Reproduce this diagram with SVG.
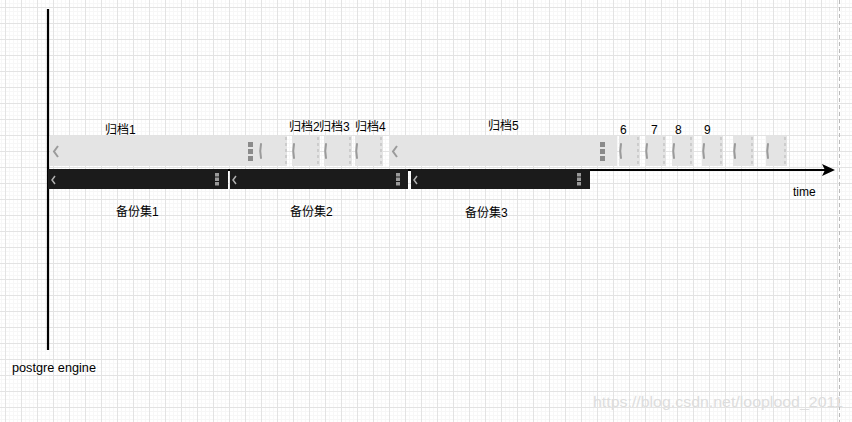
<svg xmlns="http://www.w3.org/2000/svg" width="852" height="422" viewBox="0 0 852 422">
<defs>
<pattern id="grid" patternUnits="userSpaceOnUse" x="5" y="7" width="16" height="16">
<rect width="16" height="16" fill="#ffffff"/>
<rect x="4" y="0" width="1" height="16" fill="#f7f7f7"/>
<rect x="8" y="0" width="1" height="16" fill="#f7f7f7"/>
<rect x="12" y="0" width="1" height="16" fill="#f7f7f7"/>
<rect x="0" y="4" width="16" height="1" fill="#f7f7f7"/>
<rect x="0" y="8" width="16" height="1" fill="#f7f7f7"/>
<rect x="0" y="12" width="16" height="1" fill="#f7f7f7"/>
<rect x="0" y="0" width="1" height="16" fill="#e3e3e3"/>
<rect x="0" y="0" width="16" height="1" fill="#e3e3e3"/>
</pattern>
</defs>
<style>
.t{font-family:"Liberation Sans","Noto Sans CJK SC",sans-serif;font-size:12px;fill:#000}
.lb{fill:#e4e4e4}
.db{fill:#1b1b1b}
.par{stroke:#9a9a9a;stroke-width:2;fill:none;stroke-linecap:round}
.dash{stroke:#b5b5b5;stroke-width:1;stroke-dasharray:3,3}
.chl{stroke:#9a9a9a;stroke-width:2;fill:none}
.chd{stroke:#b0b0b0;stroke-width:1.5;fill:none}
.dl{fill:#8a8a8a}
.dd{fill:#9a9a9a}
</style>
<rect width="852" height="422" fill="url(#grid)"/>
<line x1="839.5" y1="0" x2="839.5" y2="422" stroke="#bbbbbb" stroke-dasharray="4,3"/>

<g id="connectors">
<line x1="48" y1="9" x2="48" y2="350" stroke="#000" stroke-width="2.2"/>
<line x1="48" y1="170" x2="826" y2="170" stroke="#000" stroke-width="2"/>
<path d="M835,170 L822,164 L825,170 L822,176 Z" fill="#000"/>
</g>

<g id="archive1">
<rect class="lb" x="50" y="136" width="237" height="30"/>
<path class="chl" d="M58,146 L54,151.5 L58,157"/>
<rect class="dl" x="248" y="142" width="5" height="5"/>
<rect class="dl" x="248" y="149" width="5" height="5"/>
<rect class="dl" x="248" y="156" width="5" height="5"/>
<path class="par" d="M261,144 Q259.5,151 261,158"/>
<line class="dash" x1="286" y1="137" x2="286" y2="165"/>
<text class="t" x="105" y="134">归档1</text>
</g>
<g id="archive2">
<rect class="lb" x="292" y="136" width="28" height="30"/>
<path class="par" d="M294,144 Q292.5,151 294,158"/>
<line class="dash" x1="318" y1="137" x2="318" y2="165"/>
<text class="t" x="289" y="131">归档2</text>
</g>
<g id="archive3">
<rect class="lb" x="324" y="136" width="28" height="30"/>
<path class="par" d="M326,144 Q324.5,151 326,158"/>
<line class="dash" x1="350" y1="137" x2="350" y2="165"/>
<text class="t" x="319" y="131">归档3</text>
</g>
<g id="archive4">
<rect class="lb" x="355" y="136" width="28" height="30"/>
<path class="par" d="M357,144 Q355.5,151 357,158"/>
<line class="dash" x1="381" y1="137" x2="381" y2="165"/>
<text class="t" x="355" y="131">归档4</text>
</g>
<g id="archive5">
<rect class="lb" x="389" y="136" width="228" height="30"/>
<path class="chl" d="M397,146 L393,151.5 L397,157"/>
<rect class="dl" x="600" y="142" width="5" height="5"/>
<rect class="dl" x="600" y="149" width="5" height="5"/>
<rect class="dl" x="600" y="156" width="5" height="5"/>
<text class="t" x="488" y="130">归档5</text>
</g>
<g id="archive6">
<rect class="lb" x="619" y="136" width="21" height="30"/>
<path class="par" d="M621,144 Q619.5,151 621,158"/>
<line class="dash" x1="638" y1="137" x2="638" y2="165"/>
<text class="t" x="620" y="134">6</text>
</g>
<g id="archive7">
<rect class="lb" x="645" y="136" width="21" height="30"/>
<path class="par" d="M647,144 Q645.5,151 647,158"/>
<line class="dash" x1="664" y1="137" x2="664" y2="165"/>
<text class="t" x="651" y="134">7</text>
</g>
<g id="archive8">
<rect class="lb" x="672" y="136" width="21" height="30"/>
<path class="par" d="M674,144 Q672.5,151 674,158"/>
<line class="dash" x1="691" y1="137" x2="691" y2="165"/>
<text class="t" x="675" y="134">8</text>
</g>
<g id="archive9">
<rect class="lb" x="702" y="136" width="21" height="30"/>
<path class="par" d="M704,144 Q702.5,151 704,158"/>
<line class="dash" x1="721" y1="137" x2="721" y2="165"/>
<text class="t" x="704" y="134">9</text>
</g>
<g id="archive10">
<rect class="lb" x="733" y="136" width="21" height="30"/>
<path class="par" d="M735,144 Q733.5,151 735,158"/>
<line class="dash" x1="752" y1="137" x2="752" y2="165"/>
</g>
<g id="archive11">
<rect class="lb" x="766" y="136" width="21" height="30"/>
<path class="par" d="M768,144 Q766.5,151 768,158"/>
<line class="dash" x1="785" y1="137" x2="785" y2="165"/>
</g>

<g id="backup1">
<rect class="db" x="48" y="169" width="180" height="20"/>
<path class="chd" d="M55,176 L52,180 L55,184"/>
<rect class="dd" x="215" y="173" width="4" height="3.5"/>
<rect class="dd" x="215" y="177.5" width="4" height="3.5"/>
<rect class="dd" x="215" y="182" width="4" height="3.5"/>
<text class="t" x="116" y="216">备份集1</text>
</g>
<g id="backup2">
<rect class="db" x="230" y="169" width="178" height="20"/>
<path class="chd" d="M236,176 L233,180 L236,184"/>
<rect class="dd" x="396" y="173" width="4" height="3.5"/>
<rect class="dd" x="396" y="177.5" width="4" height="3.5"/>
<rect class="dd" x="396" y="182" width="4" height="3.5"/>
<text class="t" x="290" y="216">备份集2</text>
</g>
<g id="backup3">
<rect class="db" x="411" y="169" width="179" height="20"/>
<path class="chd" d="M417,176 L414,180 L417,184"/>
<rect class="dd" x="577" y="173" width="4" height="3.5"/>
<rect class="dd" x="577" y="177.5" width="4" height="3.5"/>
<rect class="dd" x="577" y="182" width="4" height="3.5"/>
<text class="t" x="465" y="217">备份集3</text>
</g>

<g id="time-label"><text class="t" x="793" y="196">time</text></g>
<g id="engine-label"><text class="t" x="12" y="372" textLength="84" lengthAdjust="spacingAndGlyphs">postgre engine</text></g>
<text x="593" y="407" font-family="Liberation Sans, sans-serif" font-size="14" fill="#dddddd" textLength="250" lengthAdjust="spacingAndGlyphs">https://blog.csdn.net/looplood_2011</text>
</svg>
